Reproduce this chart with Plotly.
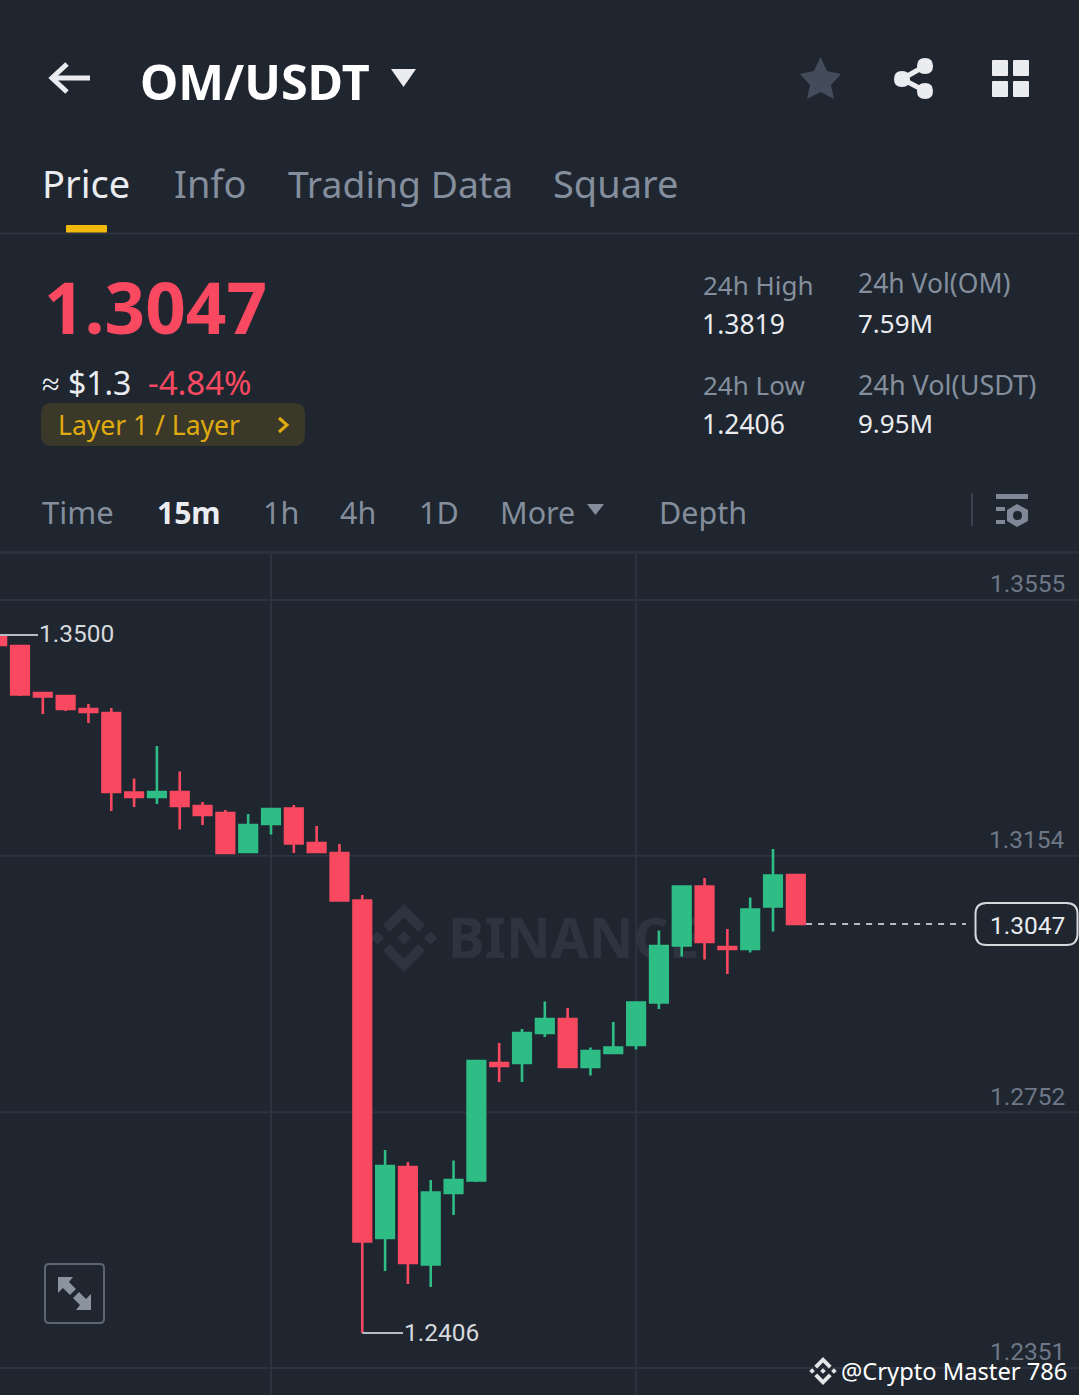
import plotly.graph_objects as go

W, H = 1079, 1395

# candles, oldest first (the first one is cut by the left edge)
opens = [1.34986, 1.34829, 1.34092, 1.34045, 1.33841, 1.33779, 1.32532, 1.32462, 1.32540, 1.32321,
         1.32211, 1.31600, 1.32039, 1.32282, 1.31741, 1.31584, 1.30839, 1.25549, 1.26662, 1.25133,
         1.26254, 1.26450, 1.28292, 1.28292, 1.28762, 1.28982, 1.28229, 1.28449, 1.28574, 1.29240,
         1.30134, 1.31059, 1.30110, 1.30079, 1.30745, 1.31239]
closes = [1.34845, 1.34069, 1.34037, 1.33841, 1.33794, 1.32540, 1.32462, 1.32540, 1.32321, 1.32180,
          1.31584, 1.32023, 1.32274, 1.31733, 1.31600, 1.30839, 1.25494, 1.26677, 1.25157, 1.26262,
          1.26458, 1.28323, 1.28245, 1.28762, 1.28982, 1.28229, 1.28480, 1.28535, 1.29240, 1.30126,
          1.31059, 1.30189, 1.30079, 1.30698, 1.31231, 1.30471]
highs = [1.35000, 1.34845, 1.34092, 1.34045, 1.33920, 1.33857, 1.32752, 1.33261, 1.32862, 1.32383,
         1.32258, 1.32195, 1.32274, 1.32336, 1.32007, 1.31725, 1.30926, 1.26928, 1.26740, 1.26458,
         1.26764, 1.28323, 1.28606, 1.28825, 1.29256, 1.29154, 1.28535, 1.28935, 1.29248, 1.30369,
         1.31067, 1.31192, 1.30393, 1.30886, 1.31647, 1.31255]
lows = [1.34845, 1.34045, 1.33763, 1.33810, 1.33622, 1.32242, 1.32305, 1.32352, 1.31952, 1.32023,
        1.31584, 1.31600, 1.31874, 1.31584, 1.31584, 1.30839, 1.24060, 1.25031, 1.24828, 1.24781,
        1.25909, 1.26427, 1.27994, 1.27994, 1.28700, 1.28229, 1.28096, 1.28441, 1.28504, 1.29139,
        1.29962, 1.29915, 1.29687, 1.30024, 1.30353, 1.30471]
candle_idx = list(range(len(opens)))

y_ticks = [1.3555, 1.3154, 1.2752, 1.2351]
x_grid = [12, 28]
last_price = 1.30471
high_label, high_idx = 1.35000, 0
low_label, low_idx = 1.24060, 16

BG = "#1f2630"
GRID = "#2c333e"
RED = "#f84960"
GREEN = "#2ebd85"
GRAY = "#848e9c"
LIGHT = "#eaecef"
YELLOW = "#f0b90b"
MARK = "#2d333f"
UI = "Noto Sans"
NUM = "Roboto"


def pt(x, y):
    return f"{x / W:.5f},{1 - y / H:.5f}"


def poly(points):
    return "M" + " L".join(pt(x, y) for x, y in points) + " Z"


def rrect(x0, y0, x1, y1, r):
    return (f"M{pt(x0 + r, y0)} L{pt(x1 - r, y0)} Q{pt(x1, y0)} {pt(x1, y0 + r)} "
            f"L{pt(x1, y1 - r)} Q{pt(x1, y1)} {pt(x1 - r, y1)} L{pt(x0 + r, y1)} "
            f"Q{pt(x0, y1)} {pt(x0, y1 - r)} L{pt(x0, y0 + r)} Q{pt(x0, y0)} {pt(x0 + r, y0)} Z")


def circle(cx, cy, r):
    return rrect(cx - r, cy - r, cx + r, cy + r, r)


def text(x, y, s, size, color=LIGHT, family=UI, anchor="left", bold=False):
    s = f"<b>{s}</b>" if bold else s
    return dict(text=s, x=(x - 2) / W, y=1 - y / H, xref="paper", yref="paper", showarrow=False,
                xanchor=anchor, yanchor="middle", align=anchor, font=dict(size=size, color=color, family=family))


def fill(path, color, layer="above"):
    return dict(type="path", path=path, xref="paper", yref="paper", fillcolor=color, line=dict(width=0), layer=layer)


def stroke(path, color, width=2, layer="above", fillcolor="rgba(0,0,0,0)"):
    return dict(type="path", path=path, xref="paper", yref="paper", fillcolor=fillcolor,
                line=dict(color=color, width=width), layer=layer)


def hline(x0, x1, y, color=GRID, width=2):
    return dict(type="line", x0=x0 / W, x1=x1 / W, y0=1 - y / H, y1=1 - y / H, xref="paper", yref="paper",
                line=dict(color=color, width=width))


def binance_logo(cx, cy, s, color, layer="above"):
    # three small diamonds and two chevrons, s is half the logo height
    d = s * 0.2
    out = []
    for dx, dy in [(0, 0), (-s * 0.78, 0), (s * 0.78, 0)]:
        out.append(fill(poly([(cx + dx, cy + dy - d), (cx + dx + d, cy + dy), (cx + dx, cy + dy + d), (cx + dx - d, cy + dy)]), color, layer))
    a, b = s, s * 0.62
    t = s * 0.2
    out.append(fill(poly([(cx, cy - a), (cx + b, cy - a + b), (cx + b - t, cy - a + b + t), (cx, cy - a + 2 * t), (cx - b + t, cy - a + b + t), (cx - b, cy - a + b)]), color, layer))
    out.append(fill(poly([(cx, cy + a), (cx + b, cy + a - b), (cx + b - t, cy + a - b - t), (cx, cy + a - 2 * t), (cx - b + t, cy + a - b - t), (cx - b, cy + a - b)]), color, layer))
    return out


fig = go.Figure(go.Candlestick(
    x=candle_idx, open=opens, high=highs, low=lows, close=closes, whiskerwidth=0,
    increasing=dict(line=dict(color=GREEN, width=2.6), fillcolor=GREEN),
    decreasing=dict(line=dict(color=RED, width=2.6), fillcolor=RED),
    hoverinfo="skip", showlegend=False,
))

shapes = []
# header
shapes += [
    stroke(f"M{pt(90, 78)} L{pt(53, 78)}", LIGHT, 5),
    stroke(f"M{pt(67, 64)} L{pt(52, 78)} L{pt(67, 92)}", LIGHT, 5),
    fill(poly([(391, 69), (416, 69), (403.5, 87)]), LIGHT),
    fill(poly([(820.5, 57), (827, 71), (841, 74), (831, 85), (834, 99), (820.5, 92), (807, 99), (810, 85), (800, 74), (814, 71)]), "#434c5a"),
    stroke(f"M{pt(925, 66)} L{pt(902, 79)} L{pt(925, 91)}", LIGHT, 5),
    fill(circle(925, 66, 8), LIGHT), fill(circle(902, 79, 8), LIGHT), fill(circle(925, 91, 8), LIGHT),
    fill(rrect(992, 60, 1008, 76, 1), LIGHT), fill(rrect(1013, 60, 1029, 76, 1), LIGHT),
    fill(rrect(992, 81, 1008, 97, 1), LIGHT), fill(rrect(1013, 81, 1029, 97, 1), LIGHT),
    fill(rrect(66, 225, 107, 233, 1), YELLOW),
    hline(0, W, 233.5),
    fill(rrect(41, 403, 305, 446, 11), "#3a3829"),
    stroke(f"M{pt(279, 418)} L{pt(287, 425)} L{pt(279, 432)}", "#e0ab10", 3),
    # interval row
    fill(poly([(587, 504), (604, 504), (595.5, 515)]), GRAY),
    dict(type="line", x0=972 / W, x1=972 / W, y0=1 - 493 / H, y1=1 - 526 / H, xref="paper", yref="paper", line=dict(color="#39414d", width=2)),
    fill(rrect(996, 494, 1028, 499, 0), "#7f8896"),
    fill(rrect(996, 507, 1005, 511, 0), "#7f8896"), fill(rrect(996, 520, 1005, 524, 0), "#7f8896"),
    fill(poly([(1017, 504), (1028, 510), (1028, 521), (1017, 527), (1007, 521), (1007, 510)]), "#7f8896"),
    fill(circle(1017.5, 515.5, 4.5), BG),
    hline(0, W, 552.5, "#2a313c", 3),
]
# grid, from the data values
for t in y_ticks:
    shapes.append(dict(type="line", x0=0, x1=1, y0=t, y1=t, xref="paper", yref="y", layer="below", line=dict(color=GRID, width=2)))
for v in x_grid:
    shapes.append(dict(type="line", x0=v, x1=v, y0=0, y1=1 - 553 / H, xref="x", yref="paper", layer="below", line=dict(color=GRID, width=2)))
# watermark sits under the candles
shapes += binance_logo(404, 938, 34, MARK, "below")
shapes.append(dict(type="rect", x0=445 / W, x1=730 / W, y0=1 - 967 / H, y1=1 - 914 / H, xref="paper", yref="paper",
                   layer="below", line=dict(width=0), fillcolor="rgba(0,0,0,0)",
                   label=dict(text="<b>BINANCE</b>", textposition="middle left", padding=0,
                              font=dict(size=55, color=MARK, family=UI))))
# high and low markers
shapes.append(dict(type="line", x0=high_idx, x1=(38 + 2.82) / 22.82, y0=high_label, y1=high_label, line=dict(color="#b7bdc6", width=2)))
shapes.append(dict(type="line", x0=low_idx, x1=(403 + 2.82) / 22.82, y0=low_label, y1=low_label, line=dict(color="#b7bdc6", width=2)))
# last price
shapes.append(dict(type="line", x0=35.45, x1=(966 + 2.82) / 22.82, y0=last_price, y1=last_price, line=dict(color="#b7bdc6", width=2, dash="6px,6px")))
shapes.append(stroke(rrect(975.5, 903, 1077.5, 945, 11), "#d5d8dc", 2, fillcolor=BG))
# expand button
shapes += [
    stroke(rrect(45, 1264, 104, 1323, 4), "#5c6572", 2),
    fill(poly([(58, 1277), (73, 1277), (69, 1282), (76, 1289), (70, 1295), (63, 1288), (58, 1293)]), "#8b93a0"),
    fill(poly([(91, 1310), (76, 1310), (80, 1305), (73, 1298), (79, 1292), (86, 1299), (91, 1294)]), "#8b93a0"),
]
shapes += binance_logo(823, 1371, 14, "#e4e5e7")

annotations = [
    text(140, 81, "OM/USDT", 48.5, "#ffffff", bold=True),
    text(42, 183, "Price", 38, LIGHT),
    text(174, 183, "Info", 38, GRAY),
    text(288, 183, "Trading Data", 37.3, GRAY),
    text(553, 183, "Square", 38, GRAY),
    text(44, 306, "1.3047", 71, RED, bold=True),
    text(42, 382, "≈ $1.3", 32, LIGHT),
    text(148, 382, "-4.84%", 33, RED),
    text(58, 425, "Layer 1 / Layer", 26.5, "#e0ab10"),
    text(703, 285, "24h High", 26, GRAY),
    text(702, 324, "1.3819", 26.5, LIGHT),
    text(703, 385, "24h Low", 26, GRAY),
    text(702, 424, "1.2406", 26.5, LIGHT),
    text(858, 283, "24h Vol(OM)", 26.5, GRAY),
    text(858, 323, "7.59M", 26, LIGHT),
    text(858, 384, "24h Vol(USDT)", 27, GRAY),
    text(858, 423, "9.95M", 26, LIGHT),
    text(42, 512, "Time", 31, GRAY),
    text(157, 513, "15m", 30, LIGHT, bold=True),
    text(263, 512, "1h", 30.5, GRAY),
    text(340, 512, "4h", 30.5, GRAY),
    text(419, 512, "1D", 30.5, GRAY),
    text(500, 512, "More", 30.5, GRAY),
    text(659, 512, "Depth", 30.5, GRAY),
    text(841, 1371, "@Crypto Master 786", 23.7, "#ffffff"),
    text(990, 925.5, f"{last_price:.4f}", 24.5, LIGHT, NUM),
]
for t in y_ticks:
    annotations.append(dict(text=f"{t:.4f}", x=1067 / W, xref="paper", y=t, yref="y", yshift=17 if t > 1.34 or t < 1.24 else 16, showarrow=False,
                            xanchor="right", yanchor="middle", font=dict(size=24.5, color="#6e7785", family=NUM)))
annotations.append(dict(text=f"{high_label:.4f}", x=(37 + 2.82) / 22.82, y=high_label, yshift=2, showarrow=False, xanchor="left",
                        yanchor="middle", font=dict(size=24.5, color="#d5d8dc", family=NUM)))
annotations.append(dict(text=f"{low_label:.4f}", x=(402 + 2.82) / 22.82, y=low_label, showarrow=False, xanchor="left",
                        yanchor="middle", font=dict(size=24.5, color="#d5d8dc", family=NUM)))

fig.update_layout(
    width=W, height=H, margin=dict(l=0, r=0, t=0, b=0),
    paper_bgcolor=BG, plot_bgcolor="rgba(0,0,0,0)", boxgap=0.23, boxgroupgap=0,
    shapes=shapes, annotations=annotations, showlegend=False,
    xaxis=dict(range=[0.1236, 47.41], showgrid=False, zeroline=False, showticklabels=False, ticks="",
               rangeslider=dict(visible=False), fixedrange=True),
    yaxis=dict(range=[1.23088, 1.36287], domain=[0, 1 - 553 / H], showgrid=False, zeroline=False,
               showticklabels=False, ticks="", fixedrange=True),
)

# the page's default body margin would shift the picture by 8px
fig.write_html("out.html", config=dict(displayModeBar=False),
               post_script="document.body.style.margin='0';document.body.style.overflow='hidden';document.body.style.background='#1f2630';")
